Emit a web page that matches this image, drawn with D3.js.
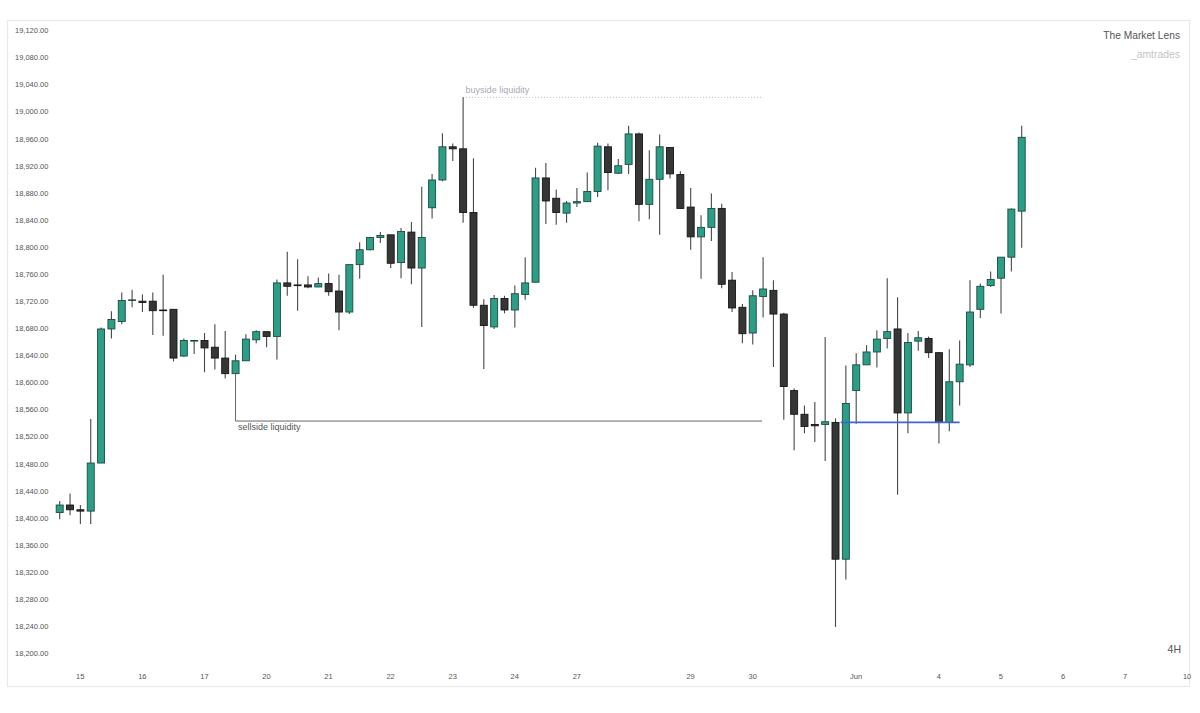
<!DOCTYPE html>
<html><head><meta charset="utf-8">
<script src="https://cdn.jsdelivr.net/npm/d3@7"></script>
<style>html,body{margin:0;background:#fff}svg{display:block}text{font-family:"Liberation Sans",sans-serif}</style>
</head><body><svg id="c" width="1200" height="713"></svg>
<script>
const open=[18409,18420,18413,18411,18482,18680,18691,18722,18721,18721,18708,18709,18640,18662,18663,18653,18637,18614,18633,18664,18676,18669,18748,18745,18745,18742,18747,18736,18705,18775,18797,18815,18819,18778,18823,18770,18859,18900,18949,18946,18852,18715,18683,18725,18708,18731,18749,18903,18873,18851,18866,18868,18883,18949,18910,18923,18968,18864,18901,18948,18908,18860,18816,18830,18858,18752,18712,18674,18728,18737,18702,18589,18554,18539,18539,18542,18340,18589,18627,18646,18666,18680,18556,18662,18666,18645,18542,18602,18627,18709,18744,18755,18786,18854];
const close=[18420,18413,18411,18482,18680,18694,18722,18723,18719,18707,18707,18637,18663,18663,18652,18637,18614,18633,18665,18676,18669,18748,18743,18744,18742,18747,18735,18705,18775,18797,18815,18818,18777,18824,18770,18815,18900,18949,18946,18852,18715,18685,18725,18708,18732,18748,18903,18869,18852,18866,18868,18883,18950,18911,18921,18968,18864,18901,18949,18909,18858,18816,18830,18858,18746,18711,18673,18729,18739,18702,18595,18554,18536,18537,18543,18340,18570,18627,18646,18665,18676,18556,18660,18667,18645,18542,18602,18628,18705,18743,18753,18786,18857,18963];
const high=[18426,18437,18420,18547,18682,18706,18734,18738,18731,18734,18760,18709,18666,18664,18674,18687,18677,18642,18672,18678,18676,18753,18794,18783,18758,18756,18762,18760,18775,18808,18816,18823,18819,18829,18838,18890,18909,18969,18954,19022,18932,18724,18730,18729,18744,18786,18918,18925,18886,18869,18888,18911,18955,18954,18931,18980,18970,18944,18967,18948,18913,18888,18848,18880,18865,18764,18717,18737,18786,18752,18704,18592,18567,18572,18668,18548,18626,18644,18656,18678,18755,18727,18674,18677,18669,18646,18650,18663,18752,18747,18765,18786,18858,18980];
const low=[18399,18405,18392,18392,18482,18666,18687,18712,18705,18671,18670,18632,18639,18643,18616,18620,18607,18614,18633,18659,18653,18635,18729,18707,18740,18742,18729,18678,18702,18754,18796,18807,18770,18755,18746,18683,18843,18898,18928,18837,18711,18621,18680,18703,18682,18723,18749,18835,18834,18837,18860,18868,18875,18885,18909,18909,18839,18842,18819,18902,18857,18797,18754,18810,18740,18705,18659,18657,18697,18624,18546,18501,18526,18513,18485,18240,18310,18540,18627,18623,18651,18435,18526,18648,18637,18511,18529,18567,18624,18696,18742,18703,18765,18800];
const yTicks=[18200,18240,18280,18320,18360,18400,18440,18480,18520,18560,18600,18640,18680,18720,18760,18800,18840,18880,18920,18960,19000,19040,19080,19120];
const xTickIndex=[2,8,14,20,26,32,38,44,50,61,67,77,85,91,97,103,109];
const xTickLabels=["15","16","17","20","21","22","23","24","27","29","30","Jun","4","5","6","7","10"];
const sellside={from:17,to:67.9,price:18544,label:"sellside liquidity"};
const buyside={from:39,to:67.9,price:19022,label:"buyside liquidity"};
const blueLevel={from:75.5,to:87,price:18542};
const title="The Market Lens",subtitle="_amtrades",interval="4H";

const svg=d3.select("#c");
const x=d3.scaleLinear().domain([0,93]).range([59.7,1021.7]);
const y=d3.scaleLinear().domain([18200,19120]).range([654,31]);
const GREEN="#2b9e85",DARK="#363636",WICK="#484848",EDGE_G="#1d4a42",EDGE_D="#161616";

svg.append("rect").attr("x",7.5).attr("y",20.5).attr("width",1182).attr("height",666).attr("fill","#fff").attr("stroke","#e9e9e9").attr("stroke-width",1.2);

const axisY=d3.axisLeft(y).tickValues(yTicks).tickSize(0).tickFormat(d3.format(",.2f"));
const gy=svg.append("g").attr("transform","translate(50.5,0)").call(axisY);
gy.select(".domain").remove();
gy.selectAll("text").attr("font-size",7.5).attr("font-family","Liberation Sans").attr("fill","#555").attr("text-anchor","start").attr("x",-35.5).attr("dy","0.22em");

const axisX=d3.axisBottom(x).tickValues(xTickIndex).tickSize(0).tickFormat((d,i)=>xTickLabels[i]);
const gx=svg.append("g").attr("transform","translate(-0.6,670)").call(axisX);
gx.select(".domain").remove();
gx.selectAll("text").attr("font-size",7.5).attr("font-family","Liberation Sans").attr("fill","#555").attr("dy","0").attr("y",8.5);

// annotations
svg.append("path").attr("fill","none").attr("stroke","#666").attr("stroke-width",1)
 .attr("d",d3.line()([[x(sellside.from),y(close[sellside.from])],[x(sellside.from),y(sellside.price)],[x(sellside.to),y(sellside.price)]]));
svg.append("line").attr("x1",x(buyside.from)).attr("x2",x(buyside.to)).attr("y1",y(buyside.price)).attr("y2",y(buyside.price))
 .attr("stroke","#b5b5c0").attr("stroke-width",1).attr("stroke-dasharray","1 2");
svg.append("text").attr("x",x(sellside.from)+2.5).attr("y",y(sellside.price)+9).attr("font-size",9).attr("font-family","Lato").attr("fill","#555").text(sellside.label);
svg.append("text").attr("x",x(buyside.from)+2.5).attr("y",y(buyside.price)-4).attr("font-size",9).attr("font-family","Lato").attr("fill","#a9a9b8").text(buyside.label);

// candles
const idx=d3.range(open.length);
const up=i=>close[i]>=open[i];
svg.append("g").selectAll("line").data(idx).join("line")
 .attr("x1",i=>x(i)).attr("x2",i=>x(i)).attr("y1",i=>y(high[i])).attr("y2",i=>y(low[i]))
 .attr("stroke",WICK).attr("stroke-width",1.1);
svg.append("g").selectAll("rect").data(idx).join("rect")
 .attr("x",i=>x(i)-3.5).attr("width",7)
 .attr("y",i=>y(Math.max(open[i],close[i])))
 .attr("height",i=>Math.max(0.6,Math.abs(y(open[i])-y(close[i]))))
 .attr("fill",i=>up(i)?GREEN:DARK).attr("stroke",i=>up(i)?EDGE_G:EDGE_D).attr("stroke-width",0.9);

svg.append("line").attr("x1",x(blueLevel.from)).attr("x2",x(blueLevel.to)).attr("y1",y(blueLevel.price)).attr("y2",y(blueLevel.price))
 .attr("stroke","#3f66cf").attr("stroke-width",1.6);

svg.append("text").attr("x",1180).attr("y",39).attr("text-anchor","end").attr("font-size",10.2).attr("font-family","Lato").attr("letter-spacing",0.02).attr("fill","#555").text(title);
svg.append("text").attr("x",1180).attr("y",58).attr("text-anchor","end").attr("font-size",10.4).attr("font-family","Lato").attr("fill","#c4c4c4").text(subtitle);
svg.append("text").attr("x",1181).attr("y",653).attr("text-anchor","end").attr("font-size",10.5).attr("fill","#555").text(interval);
</script></body></html>
